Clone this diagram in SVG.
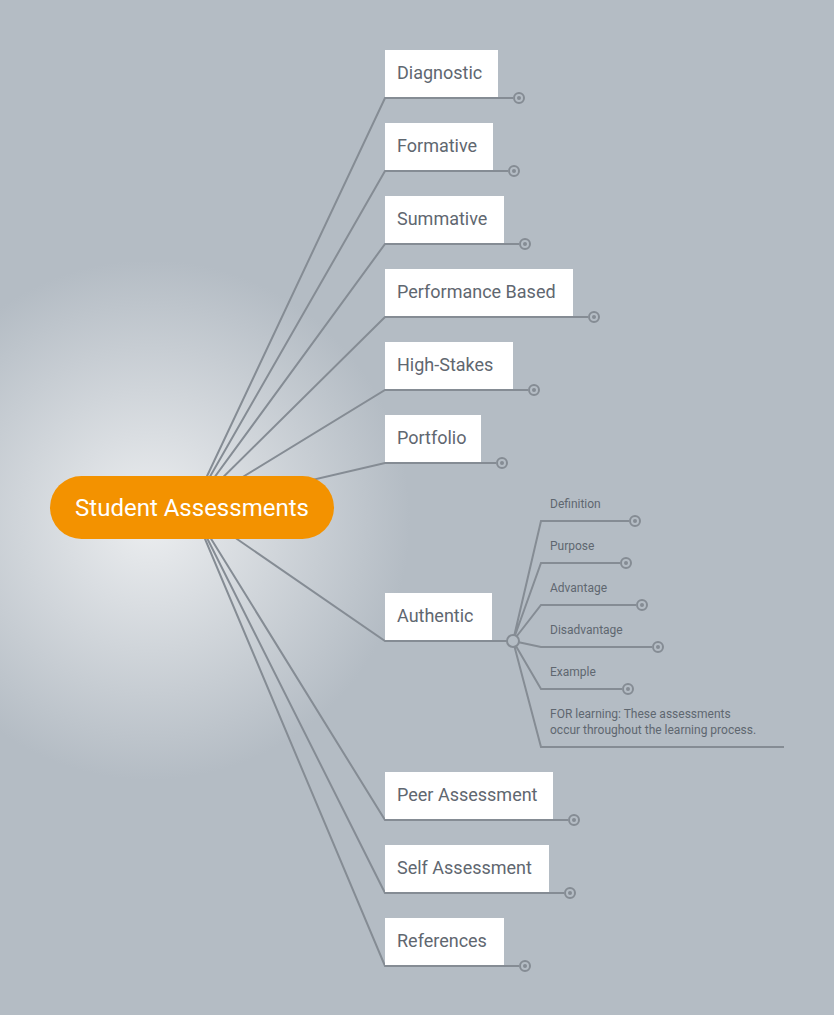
<svg xmlns="http://www.w3.org/2000/svg" width="834" height="1015" viewBox="0 0 834 1015">
<defs>
<radialGradient id="bg" cx="150" cy="520" r="260" gradientUnits="userSpaceOnUse">
<stop offset="0" stop-color="#eceef0"/><stop offset="1" stop-color="#b4bcc4"/>
</radialGradient>
<style>
.c{stroke:#858c94;stroke-width:2;fill:none}
.box{fill:#fff}
.t{font-family:Roboto,"Noto Sans",sans-serif;font-size:18px;fill:#5f6770}
.s{font-family:Roboto,"Noto Sans",sans-serif;font-size:12px;fill:#5f6770}
.o{fill:none;stroke:#858c94;stroke-width:2}
.d{fill:#858c94}
</style>
</defs>
<rect width="834" height="1015" fill="#b4bcc4"/>
<rect width="834" height="1015" fill="url(#bg)"/>
<g id="connectors">
<path class="c" d="M192 508L385 98H513M192 508L385 171H508M192 508L385 244H519M192 508L385 317H588M192 508L385 390H528M192 508L385 463H496M192 508L385 641H507M192 508L385 820H568M192 508L385 893H564M192 508L385 966H519"/>
<path class="c" d="M513 641L541 521H629M513 641L541 563H620M513 641L541 605H636M513 641L541 647H652M513 641L541 689H622M513 641L541 747H784"/>
<g>
<circle class="o" cx="519" cy="98" r="5"/><circle class="d" cx="519" cy="98" r="2"/>
<circle class="o" cx="514" cy="171" r="5"/><circle class="d" cx="514" cy="171" r="2"/>
<circle class="o" cx="525" cy="244" r="5"/><circle class="d" cx="525" cy="244" r="2"/>
<circle class="o" cx="594" cy="317" r="5"/><circle class="d" cx="594" cy="317" r="2"/>
<circle class="o" cx="534" cy="390" r="5"/><circle class="d" cx="534" cy="390" r="2"/>
<circle class="o" cx="502" cy="463" r="5"/><circle class="d" cx="502" cy="463" r="2"/>
<circle class="o" cx="574" cy="820" r="5"/><circle class="d" cx="574" cy="820" r="2"/>
<circle class="o" cx="570" cy="893" r="5"/><circle class="d" cx="570" cy="893" r="2"/>
<circle class="o" cx="525" cy="966" r="5"/><circle class="d" cx="525" cy="966" r="2"/>
<circle class="o" cx="635" cy="521" r="5"/><circle class="d" cx="635" cy="521" r="2"/>
<circle class="o" cx="626" cy="563" r="5"/><circle class="d" cx="626" cy="563" r="2"/>
<circle class="o" cx="642" cy="605" r="5"/><circle class="d" cx="642" cy="605" r="2"/>
<circle class="o" cx="658" cy="647" r="5"/><circle class="d" cx="658" cy="647" r="2"/>
<circle class="o" cx="628" cy="689" r="5"/><circle class="d" cx="628" cy="689" r="2"/>
<circle cx="513" cy="641" r="6" fill="#b4bcc4" stroke="#858c94" stroke-width="2"/>
</g>
</g>
<g id="root"><rect x="50" y="476" width="284" height="63" rx="31.5" fill="#f39200"/><text x="192" y="516" text-anchor="middle" font-family="Roboto,'Noto Sans',sans-serif" font-size="24" fill="#fff">Student Assessments</text></g>
<g id="n1"><rect class="box" x="385" y="50" width="113" height="47"/><text class="t" x="397" y="79">Diagnostic</text></g>
<g id="n2"><rect class="box" x="385" y="123" width="108" height="47"/><text class="t" x="397" y="152">Formative</text></g>
<g id="n3"><rect class="box" x="385" y="196" width="119" height="47"/><text class="t" x="397" y="225">Summative</text></g>
<g id="n4"><rect class="box" x="385" y="269" width="188" height="47"/><text class="t" x="397" y="298">Performance Based</text></g>
<g id="n5"><rect class="box" x="385" y="342" width="128" height="47"/><text class="t" x="397" y="371">High-Stakes</text></g>
<g id="n6"><rect class="box" x="385" y="415" width="96" height="47"/><text class="t" x="397" y="444">Portfolio</text></g>
<g id="n7"><rect class="box" x="385" y="593" width="107" height="47"/><text class="t" x="397" y="622">Authentic</text></g>
<g id="n8"><rect class="box" x="385" y="772" width="168" height="47"/><text class="t" x="397" y="801">Peer Assessment</text></g>
<g id="n9"><rect class="box" x="385" y="845" width="164" height="47"/><text class="t" x="397" y="874">Self Assessment</text></g>
<g id="n10"><rect class="box" x="385" y="918" width="119" height="47"/><text class="t" x="397" y="947">References</text></g>
<g id="s1"><text class="s" x="550" y="508">Definition</text></g>
<g id="s2"><text class="s" x="550" y="550">Purpose</text></g>
<g id="s3"><text class="s" x="550" y="592">Advantage</text></g>
<g id="s4"><text class="s" x="550" y="634">Disadvantage</text></g>
<g id="s5"><text class="s" x="550" y="676">Example</text></g>
<g id="s6"><text class="s" x="550" y="718">FOR learning: These assessments</text><text class="s" x="550" y="734">occur throughout the learning process.</text></g>
</svg>
